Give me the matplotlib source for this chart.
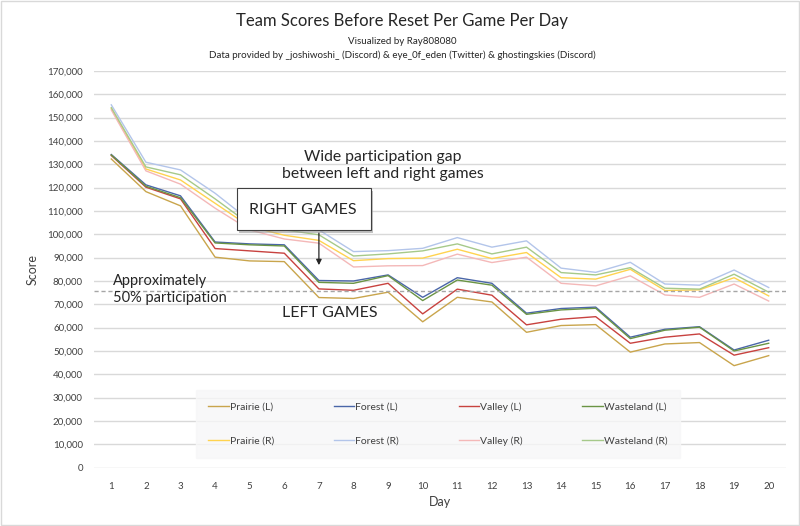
import matplotlib.pyplot as plt
import matplotlib.patches as patches

plt.rcParams['font.family'] = ['Lato', 'DejaVu Sans']

days = list(range(1, 21))

# left games
prairie_l = [132300, 118300, 112200, 90200, 88600, 88300, 72900, 72500, 75200, 62500,
             73000, 71000, 58000, 60900, 61300, 49500, 53000, 53600, 43700, 48000]
forest_l = [134200, 121200, 116500, 96700, 95900, 95500, 80200, 80000, 82600, 73000,
            81400, 79000, 66200, 68200, 68800, 55900, 59300, 60400, 50400, 54600]
valley_l = [133800, 120200, 115200, 93900, 92900, 91900, 76600, 76000, 79000, 65900,
            76500, 73900, 61200, 63600, 64700, 53300, 55900, 57300, 48200, 51400]
wasteland_l = [134000, 120600, 115700, 96300, 95500, 95000, 79400, 79000, 82300, 71600,
               80400, 78200, 65700, 67600, 68300, 55300, 58900, 60200, 50000, 53300]

# right games
prairie_r = [153900, 128000, 123300, 113300, 103300, 99600, 97400, 88700, 89600, 89800,
             93600, 89600, 92200, 81400, 80800, 85000, 75900, 76200, 81400, 73600]
forest_r = [155500, 130900, 127600, 117600, 105900, 103300, 101900, 92600, 93000, 94000,
            98600, 94500, 97200, 85500, 83700, 88000, 78700, 78200, 84700, 77200]
valley_r = [153300, 127200, 121500, 111200, 101900, 98000, 96200, 86000, 86500, 86600,
            91500, 87900, 90200, 79000, 77900, 82200, 74000, 73000, 78700, 71400]
wasteland_r = [154300, 128900, 125500, 115200, 104300, 101900, 99800, 90700, 91600, 92900,
               95900, 91600, 94500, 83600, 82600, 85700, 76900, 76500, 82900, 75200]

half_line = 75500

series = [
    ("Prairie (L)", prairie_l, "#C9A54C"),
    ("Forest (L)", forest_l, "#4A66A8"),
    ("Valley (L)", valley_l, "#C8423F"),
    ("Wasteland (L)", wasteland_l, "#6A9444"),
    ("Prairie (R)", prairie_r, "#FFD34F"),
    ("Forest (R)", forest_r, "#B3C5EA"),
    ("Valley (R)", valley_r, "#F4B8B8"),
    ("Wasteland (R)", wasteland_r, "#A6C98A"),
]

fig = plt.figure(figsize=(8, 5.26), dpi=100)
ax = fig.add_axes([0.1175, 0.111, 0.865, 0.754])

lines = {}
for name, vals, col in series:
    lines[name] = ax.plot(days, vals, color=col, lw=1.0, label=name)[0]

ax.axhline(half_line, color="#A6A6A6", lw=1, ls=(0, (3, 2)))

ax.set_xlim(0.5, 20.5)
ax.set_ylim(0, 170000)
ax.set_xticks(days)
ax.set_yticks(range(0, 170001, 10000))
ax.set_yticklabels([f"{v:,}" for v in range(0, 170001, 10000)])
ax.tick_params(length=0, labelsize=7, colors="#404040", pad=8)
ax.tick_params(axis='x', pad=10)
ax.grid(axis='y', color="#D9D9D9", lw=1)
ax.set_axisbelow(True)
for s in ax.spines.values():
    s.set_visible(False)

ax.set_ylabel("Score", fontsize=9, color="#404040", labelpad=6)
ax.set_xlabel("Day", fontsize=9, color="#404040", labelpad=4)

fig.text(0.503, 0.960, "Team Scores Before Reset Per Game Per Day", ha='center', va='center',
         fontsize=12, color="#262626")
fig.text(0.503, 0.921, "Visualized by Ray808080", ha='center', va='center', fontsize=7, color="#262626")
fig.text(0.503, 0.895, "Data provided by _joshiwoshi_ (Discord) & eye_0f_eden (Twitter) & ghostingskies (Discord)",
         ha='center', va='center', fontsize=7, color="#262626")

# legend, row-wise order
order = ["Prairie (L)", "Prairie (R)", "Forest (L)", "Forest (R)",
         "Valley (L)", "Valley (R)", "Wasteland (L)", "Wasteland (R)"]
leg = ax.legend([lines[n] for n in order], order, ncol=4, loc='upper left',
                bbox_to_anchor=(0.140, 0.208), fontsize=7.5, frameon=True,
                handlelength=2.0, handletextpad=0.1, columnspacing=5.7,
                labelspacing=2.35, borderpad=1.15, fancybox=False)
leg.get_frame().set_facecolor("#F7F7F8")
leg.get_frame().set_edgecolor("#F7F7F8")
for t in leg.get_texts():
    t.set_color("#404040")

# annotations
ax.text(8.85, 129500, "Wide participation gap\nbetween left and right games", ha='center', va='center',
        fontsize=11.3, color="#262626", linespacing=1.2)

W, H = 800.0, 526.0
shadow = patches.Rectangle((239 / W, 1 - 233 / H), 134 / W, 42 / H, transform=fig.transFigure,
                           facecolor="#9A9A9A", edgecolor='none', alpha=0.6, zorder=4)
box = patches.Rectangle((237 / W, 1 - 230 / H), 134 / W, 42 / H, transform=fig.transFigure,
                        facecolor="white", edgecolor="#404040", lw=0.8, zorder=5)
fig.patches.extend([shadow, box])
fig.text(303 / W, 1 - 210 / H, "RIGHT GAMES", ha='center', va='center', fontsize=11.5,
         color="#262626", zorder=6)
ax.annotate("", xy=(7.0, 85600), xytext=(7.0, 101800),
            arrowprops=dict(arrowstyle="-|>", color="#262626", lw=0.9, mutation_scale=8))

ax.text(7.32, 66300, "LEFT GAMES", ha='center', va='center', fontsize=11.5, color="#262626")
ax.text(1.05, 76200, "Approximately\n50% participation", ha='left', va='center', fontsize=10.5,
        color="#262626", linespacing=1.25)

fig.patches.append(patches.Rectangle((0.001, 0.001), 0.998, 0.997, transform=fig.transFigure,
                                     fill=False, edgecolor="#D9D9D9", lw=1))

fig.savefig("out.png", dpi=100)
